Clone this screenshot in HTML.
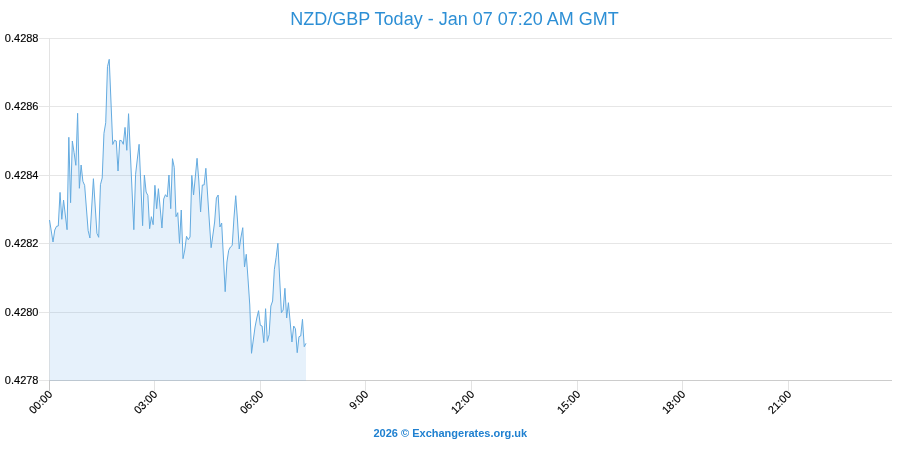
<!DOCTYPE html>
<html><head><meta charset="utf-8"><title>NZD/GBP Today</title>
<style>html,body{margin:0;padding:0;background:#fff;width:900px;height:450px;overflow:hidden;font-family:"Liberation Sans",sans-serif}</style>
</head><body><div style="position:relative;width:900px;height:450px">
<svg width="900" height="450" viewBox="0 0 900 450" style="position:absolute;left:0;top:0;will-change:transform">
<rect x="0" y="0" width="900" height="450" fill="#ffffff"/>
<path d="M 39 38.5 L 892 38.5" stroke="#e6e6e6" stroke-width="1" fill="none"/>
<path d="M 39 106.5 L 892 106.5" stroke="#e6e6e6" stroke-width="1" fill="none"/>
<path d="M 39 175.5 L 892 175.5" stroke="#e6e6e6" stroke-width="1" fill="none"/>
<path d="M 39 243.5 L 892 243.5" stroke="#e6e6e6" stroke-width="1" fill="none"/>
<path d="M 39 312.5 L 892 312.5" stroke="#e6e6e6" stroke-width="1" fill="none"/>
<path d="M 39 380.5 L 892 380.5" stroke="#e6e6e6" stroke-width="1" fill="none"/>
<path d="M 49.5 38 L 49.5 380" stroke="#e3e3e3" stroke-width="1"/>
<path d="M 49 380.5 L 892 380.5" stroke="#cccccc" stroke-width="1"/>
<path d="M 49.50 220.0 L 51.26 231.0 L 53.01 242.0 L 54.77 230.0 L 56.53 226.3 L 58.28 226.0 L 60.04 192.4 L 61.80 219.3 L 63.55 200.0 L 65.31 215.0 L 67.07 229.7 L 68.82 137.3 L 70.58 202.7 L 72.34 141.0 L 74.10 152.7 L 75.85 165.3 L 77.61 113.3 L 79.37 188.3 L 81.12 165.0 L 82.88 181.3 L 84.64 185.3 L 86.39 208.0 L 88.15 230.7 L 89.91 238.0 L 91.66 208.0 L 93.42 178.7 L 95.18 206.0 L 96.93 233.3 L 98.69 237.3 L 100.45 184.7 L 102.20 178.0 L 103.96 133.3 L 105.72 122.7 L 107.47 66.7 L 109.23 59.3 L 110.99 102.0 L 112.74 144.5 L 114.50 140.3 L 116.26 141.0 L 118.02 171.0 L 119.77 140.3 L 121.53 140.7 L 123.29 144.3 L 125.04 127.4 L 126.80 150.3 L 128.56 113.7 L 130.31 152.0 L 132.07 191.0 L 133.83 229.7 L 135.58 174.3 L 137.34 159.0 L 139.10 144.3 L 140.85 185.0 L 142.61 225.7 L 144.37 175.0 L 146.12 192.0 L 147.88 195.5 L 149.64 228.7 L 151.39 216.7 L 153.15 224.7 L 154.91 185.3 L 156.66 208.7 L 158.42 188.7 L 160.18 208.0 L 161.94 228.0 L 163.69 199.0 L 165.45 194.7 L 167.21 197.0 L 168.96 175.0 L 170.72 208.7 L 172.48 158.7 L 174.23 167.3 L 175.99 216.7 L 177.75 212.7 L 179.50 243.3 L 181.26 210.0 L 183.02 258.7 L 184.77 250.0 L 186.53 236.3 L 188.29 239.7 L 190.04 237.0 L 191.80 175.4 L 193.56 195.0 L 195.31 177.0 L 197.07 158.3 L 198.83 181.0 L 200.58 212.0 L 202.34 185.0 L 204.10 185.0 L 205.86 168.3 L 207.61 195.0 L 209.37 222.0 L 211.13 247.7 L 212.88 235.0 L 214.64 222.0 L 216.40 198.0 L 218.15 195.0 L 219.91 227.0 L 221.67 223.0 L 223.42 257.0 L 225.18 291.7 L 226.94 262.0 L 228.69 250.3 L 230.45 247.0 L 232.21 245.5 L 233.96 218.0 L 235.72 195.7 L 237.48 220.0 L 239.23 249.0 L 240.99 237.0 L 242.75 227.7 L 244.50 267.0 L 246.26 254.3 L 248.02 279.0 L 249.78 305.0 L 251.53 353.3 L 253.29 340.0 L 255.05 327.0 L 256.80 318.0 L 258.56 310.7 L 260.32 325.3 L 262.07 326.0 L 263.83 342.7 L 265.59 308.7 L 267.34 341.3 L 269.10 334.7 L 270.86 306.0 L 272.61 301.0 L 274.37 269.3 L 276.13 257.3 L 277.88 243.3 L 279.64 278.0 L 281.40 312.7 L 283.15 310.0 L 284.91 288.3 L 286.67 318.0 L 288.42 302.7 L 290.18 322.0 L 291.94 342.0 L 293.70 326.0 L 295.45 328.7 L 297.21 352.7 L 298.97 336.7 L 300.72 336.0 L 302.48 319.3 L 304.24 346.7 L 305.99 343.3 L 305.99 381 L 49.50 381 Z" fill="#7cb5ec" fill-opacity="0.19" stroke="none"/>
<path d="M 49.50 220.0 L 51.26 231.0 L 53.01 242.0 L 54.77 230.0 L 56.53 226.3 L 58.28 226.0 L 60.04 192.4 L 61.80 219.3 L 63.55 200.0 L 65.31 215.0 L 67.07 229.7 L 68.82 137.3 L 70.58 202.7 L 72.34 141.0 L 74.10 152.7 L 75.85 165.3 L 77.61 113.3 L 79.37 188.3 L 81.12 165.0 L 82.88 181.3 L 84.64 185.3 L 86.39 208.0 L 88.15 230.7 L 89.91 238.0 L 91.66 208.0 L 93.42 178.7 L 95.18 206.0 L 96.93 233.3 L 98.69 237.3 L 100.45 184.7 L 102.20 178.0 L 103.96 133.3 L 105.72 122.7 L 107.47 66.7 L 109.23 59.3 L 110.99 102.0 L 112.74 144.5 L 114.50 140.3 L 116.26 141.0 L 118.02 171.0 L 119.77 140.3 L 121.53 140.7 L 123.29 144.3 L 125.04 127.4 L 126.80 150.3 L 128.56 113.7 L 130.31 152.0 L 132.07 191.0 L 133.83 229.7 L 135.58 174.3 L 137.34 159.0 L 139.10 144.3 L 140.85 185.0 L 142.61 225.7 L 144.37 175.0 L 146.12 192.0 L 147.88 195.5 L 149.64 228.7 L 151.39 216.7 L 153.15 224.7 L 154.91 185.3 L 156.66 208.7 L 158.42 188.7 L 160.18 208.0 L 161.94 228.0 L 163.69 199.0 L 165.45 194.7 L 167.21 197.0 L 168.96 175.0 L 170.72 208.7 L 172.48 158.7 L 174.23 167.3 L 175.99 216.7 L 177.75 212.7 L 179.50 243.3 L 181.26 210.0 L 183.02 258.7 L 184.77 250.0 L 186.53 236.3 L 188.29 239.7 L 190.04 237.0 L 191.80 175.4 L 193.56 195.0 L 195.31 177.0 L 197.07 158.3 L 198.83 181.0 L 200.58 212.0 L 202.34 185.0 L 204.10 185.0 L 205.86 168.3 L 207.61 195.0 L 209.37 222.0 L 211.13 247.7 L 212.88 235.0 L 214.64 222.0 L 216.40 198.0 L 218.15 195.0 L 219.91 227.0 L 221.67 223.0 L 223.42 257.0 L 225.18 291.7 L 226.94 262.0 L 228.69 250.3 L 230.45 247.0 L 232.21 245.5 L 233.96 218.0 L 235.72 195.7 L 237.48 220.0 L 239.23 249.0 L 240.99 237.0 L 242.75 227.7 L 244.50 267.0 L 246.26 254.3 L 248.02 279.0 L 249.78 305.0 L 251.53 353.3 L 253.29 340.0 L 255.05 327.0 L 256.80 318.0 L 258.56 310.7 L 260.32 325.3 L 262.07 326.0 L 263.83 342.7 L 265.59 308.7 L 267.34 341.3 L 269.10 334.7 L 270.86 306.0 L 272.61 301.0 L 274.37 269.3 L 276.13 257.3 L 277.88 243.3 L 279.64 278.0 L 281.40 312.7 L 283.15 310.0 L 284.91 288.3 L 286.67 318.0 L 288.42 302.7 L 290.18 322.0 L 291.94 342.0 L 293.70 326.0 L 295.45 328.7 L 297.21 352.7 L 298.97 336.7 L 300.72 336.0 L 302.48 319.3 L 304.24 346.7 L 305.99 343.3" fill="none" stroke="#64abe0" stroke-width="1" stroke-linejoin="round"/>
<path d="M 49.5 381 L 49.5 391" stroke="#c8c8c8" stroke-width="1"/>
<path d="M 154.5 381 L 154.5 391" stroke="#e3e3e3" stroke-width="1"/>
<path d="M 260.5 381 L 260.5 391" stroke="#e3e3e3" stroke-width="1"/>
<path d="M 365.5 381 L 365.5 391" stroke="#e3e3e3" stroke-width="1"/>
<path d="M 471.5 381 L 471.5 391" stroke="#e3e3e3" stroke-width="1"/>
<path d="M 577.5 381 L 577.5 391" stroke="#e3e3e3" stroke-width="1"/>
<path d="M 682.5 381 L 682.5 391" stroke="#e3e3e3" stroke-width="1"/>
<path d="M 788.5 381 L 788.5 391" stroke="#e3e3e3" stroke-width="1"/>
<text x="38.5" y="42" text-anchor="end" font-family="Liberation Sans" font-size="11" fill="#000000" stroke="#000000" stroke-width="0.15">0.4288</text>
<text x="38.5" y="110" text-anchor="end" font-family="Liberation Sans" font-size="11" fill="#000000" stroke="#000000" stroke-width="0.15">0.4286</text>
<text x="38.5" y="179" text-anchor="end" font-family="Liberation Sans" font-size="11" fill="#000000" stroke="#000000" stroke-width="0.15">0.4284</text>
<text x="38.5" y="247" text-anchor="end" font-family="Liberation Sans" font-size="11" fill="#000000" stroke="#000000" stroke-width="0.15">0.4282</text>
<text x="38.5" y="316" text-anchor="end" font-family="Liberation Sans" font-size="11" fill="#000000" stroke="#000000" stroke-width="0.15">0.4280</text>
<text x="38.5" y="384" text-anchor="end" font-family="Liberation Sans" font-size="11" fill="#000000" stroke="#000000" stroke-width="0.15">0.4278</text>
<text x="53.0" y="395" text-anchor="end" transform="rotate(-45 53.0 395)" font-family="Liberation Sans" font-size="11" fill="#000000" stroke="#000000" stroke-width="0.15">00:00</text>
<text x="158.0" y="395" text-anchor="end" transform="rotate(-45 158.0 395)" font-family="Liberation Sans" font-size="11" fill="#000000" stroke="#000000" stroke-width="0.15">03:00</text>
<text x="264.0" y="395" text-anchor="end" transform="rotate(-45 264.0 395)" font-family="Liberation Sans" font-size="11" fill="#000000" stroke="#000000" stroke-width="0.15">06:00</text>
<text x="369.0" y="395" text-anchor="end" transform="rotate(-45 369.0 395)" font-family="Liberation Sans" font-size="11" fill="#000000" stroke="#000000" stroke-width="0.15">9:00</text>
<text x="475.0" y="395" text-anchor="end" transform="rotate(-45 475.0 395)" font-family="Liberation Sans" font-size="11" fill="#000000" stroke="#000000" stroke-width="0.15">12:00</text>
<text x="581.0" y="395" text-anchor="end" transform="rotate(-45 581.0 395)" font-family="Liberation Sans" font-size="11" fill="#000000" stroke="#000000" stroke-width="0.15">15:00</text>
<text x="686.0" y="395" text-anchor="end" transform="rotate(-45 686.0 395)" font-family="Liberation Sans" font-size="11" fill="#000000" stroke="#000000" stroke-width="0.15">18:00</text>
<text x="792.0" y="395" text-anchor="end" transform="rotate(-45 792.0 395)" font-family="Liberation Sans" font-size="11" fill="#000000" stroke="#000000" stroke-width="0.15">21:00</text>
<text x="454.5" y="25.4" text-anchor="middle" font-family="Liberation Sans" font-size="18" fill="#2d8fd5">NZD/GBP Today - Jan 07 07:20 AM GMT</text>
<text x="450.3" y="437" text-anchor="middle" font-family="Liberation Sans" font-weight="bold" font-size="11" fill="#1f80d0">2026 © Exchangerates.org.uk</text>
</svg>
</div></body></html>
